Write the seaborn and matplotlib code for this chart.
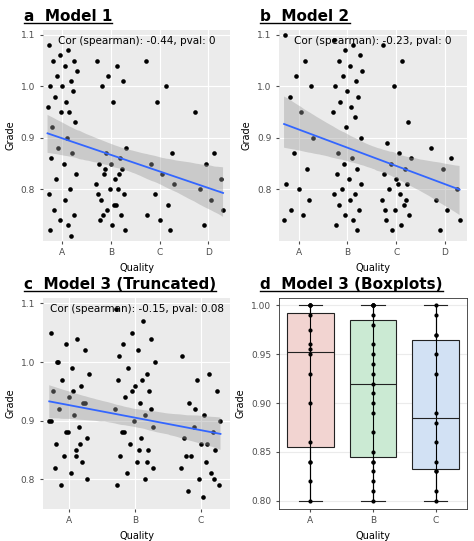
import numpy as np
import pandas as pd
import matplotlib
matplotlib.use("Agg")
import matplotlib.pyplot as plt
import seaborn as sns
from matplotlib.lines import Line2D

# hand-read jitter offsets (reused per category)
jit = [-0.28, 0.12, -0.05, 0.25, -0.18, 0.05, 0.3, -0.1, 0.18, -0.25, 0.0, 0.22,
       -0.15, 0.08, -0.3, 0.15, -0.02, 0.27, -0.2, 0.1, -0.08, 0.2, -0.22, 0.03,
       0.28, -0.12, 0.16, -0.27, 0.06, -0.17, 0.24, -0.04, 0.11, -0.24, 0.19]

a_A = [1.08, 1.07, 1.06, 1.05, 1.05, 1.04, 1.03, 1.02, 1.01, 1.0, 1.0, 0.99, 0.98, 0.97,
       0.96, 0.95, 0.95, 0.93, 0.92, 0.90, 0.88, 0.87, 0.86, 0.85, 0.83, 0.82, 0.80,
       0.79, 0.78, 0.76, 0.75, 0.74, 0.73, 0.72, 0.71]
a_B = [1.05, 1.04, 1.02, 1.01, 1.0, 0.97, 0.88, 0.87, 0.86, 0.85, 0.85, 0.84, 0.83,
       0.82, 0.81, 0.80, 0.80, 0.79, 0.78, 0.77, 0.76, 0.75, 0.74, 0.73, 0.72, 0.84,
       0.83, 0.79, 0.77, 0.75]
a_C = [1.05, 1.0, 0.97, 0.87, 0.85, 0.83, 0.81, 0.79, 0.77, 0.75, 0.74, 0.72]
a_D = [0.95, 0.87, 0.85, 0.82, 0.80, 0.78, 0.76, 0.73]

b_A = [1.1, 1.05, 1.02, 1.0, 0.98, 0.95, 0.9, 0.87, 0.84, 0.81, 0.8, 0.78, 0.76, 0.75, 0.74]
b_B = [1.09, 1.08, 1.07, 1.06, 1.05, 1.04, 1.03, 1.02, 1.01, 1.0, 0.99, 0.98, 0.97,
       0.96, 0.95, 0.94, 0.92, 0.9, 0.87, 0.86, 0.85, 0.84, 0.83, 0.82, 0.81, 0.8,
       0.79, 0.79, 0.78, 0.77, 0.76, 0.75, 0.74, 0.73, 0.72]
b_C = [1.08, 1.05, 1.0, 0.93, 0.89, 0.87, 0.86, 0.85, 0.84, 0.83, 0.82, 0.81, 0.8,
       0.79, 0.78, 0.77, 0.76, 0.75, 0.74, 0.73, 0.72, 0.78, 0.76, 0.81]
b_D = [0.88, 0.86, 0.84, 0.8, 0.78, 0.76, 0.74, 0.72]

c_A = [1.05, 1.04, 1.03, 1.02, 1.0, 0.99, 0.98, 0.97, 0.96, 0.95, 0.94, 0.93, 0.92,
       0.91, 0.9, 0.89, 0.88, 0.87, 0.86, 0.85, 0.84, 0.83, 0.82, 0.81, 0.8, 0.79,
       0.86, 0.9, 0.95, 1.0, 0.93, 0.88, 0.84]
c_B = [1.09, 1.07, 1.05, 1.04, 1.03, 1.02, 1.0, 0.99, 0.98, 0.97, 0.96, 0.95, 0.94,
       0.93, 0.92, 0.91, 0.9, 0.89, 0.88, 0.87, 0.86, 0.85, 0.84, 0.83, 0.82, 0.81,
       0.8, 0.79, 0.85, 0.88, 0.92, 0.95, 0.97, 1.01, 0.83]
c_C = [1.01, 0.98, 0.97, 0.95, 0.93, 0.91, 0.9, 0.89, 0.88, 0.87, 0.86, 0.85, 0.84,
       0.83, 0.82, 0.81, 0.8, 0.79, 0.78, 0.86, 0.92, 0.8, 0.84, 0.77]

d_A = [1.0, 1.0, 1.0, 1.0, 0.99, 0.975, 0.96, 0.955, 0.95, 0.93, 0.9, 0.86, 0.84,
       0.84, 0.82, 0.8]
d_B = [1.0, 1.0, 1.0, 1.0, 1.0, 0.99, 0.98, 0.96, 0.95, 0.94, 0.93, 0.92, 0.91, 0.9,
       0.89, 0.87, 0.85, 0.84, 0.84, 0.83, 0.82, 0.81, 0.8]
d_C = [1.0, 0.99, 0.97, 0.97, 0.95, 0.93, 0.89, 0.88, 0.86, 0.84, 0.83, 0.83, 0.81, 0.8]


def build(groups):
    xs, ys = [], []
    for pos, vals in enumerate(groups, start=1):
        for i, v in enumerate(vals):
            xs.append(pos + jit[i % len(jit)])
            ys.append(v)
    return pd.DataFrame({"Quality": xs, "Grade": ys})


def style_gg(ax):
    ax.set_facecolor("#EBEBEB")
    ax.grid(True, color="white", lw=0.8)
    ax.set_axisbelow(True)
    for s in ax.spines.values():
        s.set_visible(False)
    ax.tick_params(colors="#4D4D4D", labelsize=6.5, length=2)


fig, axes = plt.subplots(2, 2, figsize=(4.74, 5.41), dpi=100)
plt.subplots_adjust(left=0.09, right=0.985, top=0.945, bottom=0.06, wspace=0.26, hspace=0.27)

panels = [
    (axes[0, 0], [a_A, a_B, a_C, a_D], "a  Model 1", "Cor (spearman): -0.44, pval: 0", (0.7, 1.11)),
    (axes[0, 1], [b_A, b_B, b_C, b_D], "b  Model 2", "Cor (spearman): -0.23, pval: 0", (0.7, 1.11)),
    (axes[1, 0], [c_A, c_B, c_C], "c  Model 3 (Truncated)", "Cor (spearman): -0.15, pval: 0.08", (0.75, 1.11)),
]
titles = []
for ax, groups, title, cor, ylim in panels:
    df = build(groups)
    style_gg(ax)
    sns.regplot(data=df, x="Quality", y="Grade", ax=ax, color="black",
                scatter_kws=dict(s=11, linewidths=0, alpha=1),
                line_kws=dict(color="#3366FF", lw=1.3), ci=95)
    ax.collections[-1].set_facecolor("#999999")
    ax.collections[-1].set_alpha(0.4)
    n = len(groups)
    ax.set_xticks(range(1, n + 1))
    ax.set_xticklabels(["A", "B", "C", "D"][:n])
    ax.set_xlim(0.6, n + 0.45)
    ax.set_ylim(*ylim)
    ax.set_yticks([0.8, 0.9, 1.0, 1.1])
    ax.set_xlabel("Quality", fontsize=7)
    ax.set_ylabel("Grade", fontsize=7)
    ax.text(0.5, 0.97, cor, transform=ax.transAxes, ha="center", va="top", fontsize=7.5)
    titles.append(ax.set_title(title, loc="left", fontsize=11, fontweight="bold", x=-0.1))

# panel d: boxplots
ax = axes[1, 1]
dd = pd.DataFrame({"Quality": ["A"] * len(d_A) + ["B"] * len(d_B) + ["C"] * len(d_C),
                   "Grade": d_A + d_B + d_C})
ax.set_facecolor("white")
ax.grid(True, color="#EBEBEB", lw=0.8)
ax.set_axisbelow(True)
sns.boxplot(data=dd, x="Quality", y="Grade", ax=ax, hue="Quality", legend=False,
            palette=["#F8CFCB", "#C6EFD1", "#CCE0FA"], width=0.75, whis=10,
            linecolor="#222222", linewidth=0.8, fliersize=0)
sns.lineplot(data=dd, x="Quality", y="Grade", ax=ax, estimator=None, units="Quality",
             color="black", lw=0.8, sort=True)
sns.stripplot(data=dd, x="Quality", y="Grade", ax=ax, color="black", size=3, jitter=False)
for s in ax.spines.values():
    s.set_color("#333333")
    s.set_linewidth(0.6)
ax.tick_params(colors="#4D4D4D", labelsize=6.5, length=2)
ax.set_yticks([0.80, 0.85, 0.90, 0.95, 1.00])
ax.set_yticklabels(["0.80", "0.85", "0.90", "0.95", "1.00"])
ax.set_ylim(0.792, 1.008)
ax.set_xlabel("Quality", fontsize=7)
ax.set_ylabel("Grade", fontsize=7)
titles.append(ax.set_title("d  Model 3 (Boxplots)", loc="left", fontsize=11, fontweight="bold", x=-0.1))

# underline panel titles
fig.canvas.draw()
r = fig.canvas.get_renderer()
inv = fig.transFigure.inverted()
for t in titles:
    bb = t.get_window_extent(r)
    (x0, y0), (x1, y1) = inv.transform([(bb.x0, bb.y0), (bb.x1, bb.y1)])
    fig.add_artist(Line2D([x0, x1], [y0 + 0.002, y0 + 0.002], color="black", lw=1))

fig.savefig("out.png", dpi=100)
